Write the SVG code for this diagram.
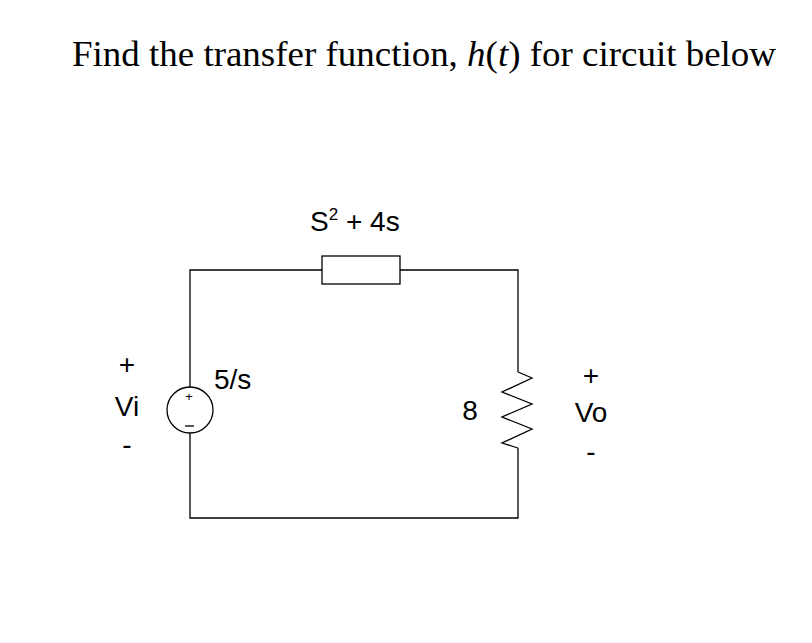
<svg xmlns="http://www.w3.org/2000/svg" width="812" height="643" viewBox="0 0 812 643">
<style>
.w{fill:none;stroke:#000;stroke-width:1.3}
.t{font-family:"Liberation Sans",Arial,sans-serif;font-size:28px;fill:#000}
.h{font-family:"Liberation Serif","Times New Roman",serif;font-size:36px;fill:#000}
</style>
<rect width="812" height="643" fill="#fff"/>
<text class="h" x="72" y="66" textLength="704" lengthAdjust="spacingAndGlyphs">Find the transfer function, <tspan font-style="italic">h</tspan>(<tspan font-style="italic">t</tspan>) for circuit below</text>
<g id="connectors">
<polyline class="w" points="190,387 190,270 322,270"/>
<polyline class="w" points="400,270 518,270 518,372"/>
<polyline class="w" points="518,448 518,518 190,518 190,433"/>
</g>
<g id="Z1">
<rect class="w" x="322" y="256" width="78" height="28"/>
<text class="t" x="310" y="231">S<tspan font-size="17" dy="-11">2</tspan><tspan dy="11"> + 4s</tspan></text>
</g>
<g id="Vi">
<circle class="w" cx="190" cy="410" r="23"/>
<text x="189" y="401" font-family="Liberation Sans,sans-serif" font-size="13" text-anchor="middle">+</text>
<line class="w" x1="185" y1="426" x2="194" y2="426"/>
<text class="t" x="214" y="389">5/s</text>
<text class="t" x="127" y="374" text-anchor="middle">+</text>
<text class="t" x="127" y="416" text-anchor="middle">Vi</text>
<text class="t" x="127" y="454" text-anchor="middle">-</text>
</g>
<g id="R">
<polyline class="w" points="518,372 532,378 502,392 532,404 502,417 532,429 502,443 518,448"/>
<text class="t" x="470" y="420" text-anchor="middle">8</text>
<text class="t" x="591" y="385" text-anchor="middle">+</text>
<text class="t" x="591" y="422" text-anchor="middle">Vo</text>
<text class="t" x="591" y="461" text-anchor="middle">-</text>
</g>
</svg>
